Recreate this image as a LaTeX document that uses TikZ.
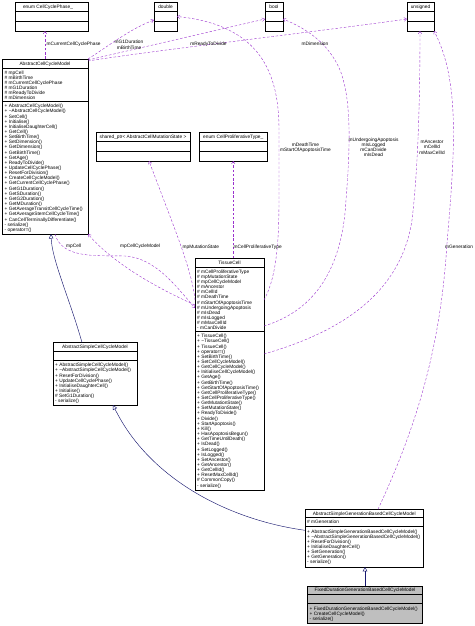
\documentclass[tikz,border=0pt]{standalone}
\usepackage{fontspec}
\setmainfont{Liberation Sans}
\usetikzlibrary{arrows.meta,calc}
\definecolor{collab}{HTML}{9A32CD}
\definecolor{inher}{HTML}{191970}
\definecolor{fillgray}{HTML}{BFBFBF}
\begin{document}
\begin{tikzpicture}[x=1pt,y=-1pt,
 cls/.style={draw=black, line width=0.4pt, anchor=north west, inner sep=0, outer sep=0},
 sep/.style={draw=black, line width=0.4pt},
 txt/.style={font=\fontsize{4.8}{5.15}\selectfont, inner sep=0, anchor=base west},
 ttl/.style={font=\fontsize{4.8}{5.15}\selectfont, inner sep=0, anchor=base},
 use/.style={draw=collab, line width=0.4pt, dash pattern=on 2.5pt off 1.8pt, -{Straight Barb[length=2.6pt,width=3.6pt]}},
 isa/.style={draw=inher, line width=0.45pt, -{Triangle[open,length=4.5pt,width=4.5pt]}},
]
\useasboundingbox (0,0) rectangle (474,626);

% ---------- empty boxes ----------
\node[cls, minimum width=73pt, minimum height=29pt] (ccp) at (15,2) {};
\draw[sep] (15,11) -- (88,11); \draw[sep] (15,21) -- (88,21);
\node[ttl] (ccpt) at (48,8.2) {enum CellCyclePhase\_};

\node[cls, minimum width=23pt, minimum height=29pt] (dbl) at (154,2) {};
\draw[sep] (154,11) -- (177,11); \draw[sep] (154,21) -- (177,21);
\node[ttl] (dblt) at (165.5,8.2) {double};

\node[cls, minimum width=18pt, minimum height=29pt] (bool) at (265,2) {};
\draw[sep] (265,11) -- (283,11); \draw[sep] (265,21) -- (283,21);
\node[ttl] (boolt) at (274,8.2) {bool};

\node[cls, minimum width=27pt, minimum height=29pt] (uns) at (407,2) {};
\draw[sep] (407,11) -- (434,11); \draw[sep] (407,21) -- (434,21);
\node[ttl] (unst) at (420.5,8.2) {unsigned};

\node[cls, minimum width=94pt, minimum height=28.5pt] (shp) at (96,132.5) {};
\draw[sep] (96,141.5) -- (190,141.5); \draw[sep] (96,151.5) -- (190,151.5);
\node[ttl] (shpt) at (143,138.7) {shared\_ptr< AbstractCellMutationState >};

\node[cls, minimum width=67.5pt, minimum height=28.5pt] (cpt) at (199.5,132.5) {};
\draw[sep] (199.5,141.5) -- (267,141.5); \draw[sep] (199.5,151.5) -- (267,151.5);
\node[ttl] (cptt) at (233.25,138.7) {enum CellProliferativeType\_};

% ---------- AbstractCellCycleModel ----------
\node[cls, minimum width=86pt, minimum height=175pt] (acm) at (2,59) {};
\draw[sep] (2,68) -- (88,68); \draw[sep] (2,101.5) -- (88,101.5);
\node[ttl] (acmt) at (45,65.4) {AbstractCellCycleModel};
\foreach \t [count=\i from 0] in {\# mpCell,\# mBirthTime,\# mCurrentCellCyclePhase,\# mG1Duration,\# mReadyToDivide,\# mDimension}
  {\node[txt] (acma\i) at (4.5,{74.2+5.15*\i}) {\t};}
\foreach \t [count=\i from 0] in {+ AbstractCellCycleModel(),+ \textasciitilde AbstractCellCycleModel(),+ SetCell(),+ Initialise(),+ InitialiseDaughterCell(),+ GetCell(),+ SetBirthTime(),+ SetDimension(),+ GetDimension(),+ GetBirthTime(),+ GetAge(),+ ReadyToDivide(),+ UpdateCellCyclePhase(),+ ResetForDivision(),+ CreateCellCycleModel(),+ GetCurrentCellCyclePhase(),+ GetG1Duration(),+ GetSDuration(),+ GetG2Duration(),+ GetMDuration(),+ GetAverageTransitCellCycleTime(),+ GetAverageStemCellCycleTime(),+ CanCellTerminallyDifferentiate(),- serialize(),- operator=()}
  {\node[txt] (acmm\i) at (4.5,{107.7+5.15*\i}) {\t};}

% ---------- TissueCell ----------
\node[cls, minimum width=69pt, minimum height=232pt] (tc) at (195,258) {};
\draw[sep] (195,267) -- (264,267); \draw[sep] (195,331.5) -- (264,331.5);
\node[ttl] (tct) at (229.5,264.2) {TissueCell};
\foreach \t [count=\i from 0] in {\# mCellProliferativeType,\# mpMutationState,\# mpCellCycleModel,\# mAncestor,\# mCellId,\# mDeathTime,\# mStartOfApoptosisTime,\# mUndergoingApoptosis,\# mIsDead,\# mIsLogged,\# mMaxCellId,- mCanDivide}
  {\node[txt] (tca\i) at (197,{273.2+5.15*\i}) {\t};}
\foreach \t [count=\i from 0] in {+ TissueCell(),+ \textasciitilde TissueCell(),+ TissueCell(),+ operator=(),+ SetBirthTime(),+ SetCellCycleModel(),+ GetCellCycleModel(),+ InitialiseCellCycleModel(),+ GetAge(),+ GetBirthTime(),+ GetStartOfApoptosisTime(),+ GetCellProliferativeType(),+ SetCellProliferativeType(),+ GetMutationState(),+ SetMutationState(),+ ReadyToDivide(),+ Divide(),+ StartApoptosis(),+ Kill(),+ HasApoptosisBegun(),+ GetTimeUntilDeath(),+ IsDead(),+ SetLogged(),+ IsLogged(),+ SetAncestor(),+ GetAncestor(),+ GetCellId(),+ ResetMaxCellId(),\# CommonCopy(),- serialize()}
  {\node[txt] (tcm\i) at (197,{337.7+5.15*\i}) {\t};}

% ---------- AbstractSimpleCellCycleModel ----------
\node[cls, minimum width=84pt, minimum height=62.5pt] (ascm) at (53,342.5) {};
\draw[sep] (53,350.7) -- (137,350.7); \draw[sep] (53,360.3) -- (137,360.3);
\node[ttl] (ascmt) at (95,348.2) {AbstractSimpleCellCycleModel};
\foreach \t [count=\i from 0] in {+ AbstractSimpleCellCycleModel(),+ \textasciitilde AbstractSimpleCellCycleModel(),+ ResetForDivision(),+ UpdateCellCyclePhase(),+ InitialiseDaughterCell(),+ Initialise(),\# SetG1Duration(),- serialize()}
  {\node[txt] (ascmm\i) at (55,{366.7+5.15*\i}) {\t};}

% ---------- AbstractSimpleGenerationBasedCellCycleModel ----------
\node[cls, minimum width=118.5pt, minimum height=57.5pt] (asg) at (305,509.3) {};
\draw[sep] (305,517.3) -- (423.5,517.3); \draw[sep] (305,526.5) -- (423.5,526.5);
\node[ttl] (asgt) at (364.25,515) {AbstractSimpleGenerationBasedCellCycleModel};
\node[txt] (asga0) at (307,523.7) {\# mGeneration};
\foreach \t [count=\i from 0] in {+ AbstractSimpleGenerationBasedCellCycleModel(),+ \textasciitilde AbstractSimpleGenerationBasedCellCycleModel(),+ ResetForDivision(),+ InitialiseDaughterCell(),+ SetGeneration(),+ GetGeneration(),- serialize()}
  {\node[txt] (asgm\i) at (307,{533+5.15*\i}) {\t};}

% ---------- FixedDurationGenerationBasedCellCycleModel ----------
\node[cls, fill=fillgray, minimum width=115pt, minimum height=37pt] (fx) at (307.5,586) {};
\draw[sep] (307.5,594.3) -- (422.5,594.3); \draw[sep] (307.5,603.3) -- (422.5,603.3);
\node[ttl] (fxt) at (365,591.9) {FixedDurationGenerationBasedCellCycleModel};
\foreach \t [count=\i from 0] in {+ FixedDurationGenerationBasedCellCycleModel(),+ CreateCellCycleModel(),- serialize()}
  {\node[txt] (fxm\i) at (309.5,{610+5.15*\i}) {\t};}

% ---------- collaboration edges ----------
\draw[use] (acm.north) -- (acm.north |- ccp.south);
\draw[use] (acm.north east) .. controls (110,45) and (130,29) .. ($(dbl.west)+(0,3.5)$);
\draw[use] ([yshift=-1pt]acm.north east) -- ($(bool.west)+(0,2.5)$);
\draw[use] ([yshift=-2pt]acm.north east) .. controls (150,51) and (330,30) .. ($(uns.west)+(0,2.5)$);

\draw[use] ($(tc.north east)+(0,42)$) .. controls (275,280) and (279,250) .. (279,200) -- (279,130) .. controls (279,75) and (262,25) .. (dbl.east);
\draw[use] ($(tc.north east)+(0,68)$) .. controls (310,312) and (342,275) .. (346,200) .. controls (350,150) and (352,100) .. (340,70) .. controls (328,42) and (305,28) .. ($(bool.east)+(0,2.5)$);
\draw[use] ($(tc.north east)+(0,96)$) .. controls (330,335) and (400,300) .. (412,220) .. controls (418,170) and (420,100) .. ($(uns.south west)+(13,0)$);
\draw[use] ($(asg.north west)+(73,0)$) .. controls (410,440) and (440,360) .. (447,243) .. controls (455,150) and (460,80) .. (uns.south east);

\draw[use] ($(tc.north west)+(0,42)$) .. controls (192,270) and (175,230) .. ($(shp.south)+(6,0)$);
\draw[use] (tc.north -| cpt.south) -- (cpt.south);
\draw[use] ($(acm.south west)+(53,0)$) .. controls (62,260) and (100,255) .. (125,256) .. controls (155,258) and (175,285) .. ($(tc.north west)+(0,50)$);
\draw[use] ($(tc.north west)+(0,47)$) .. controls (150,285) and (110,260) .. (acm.south east);

% ---------- inheritance edges ----------
\draw[isa] ($(ascm.north west)+(29,0)$) .. controls (70,300) and (52,260) .. ($(acm.south west)+(49,0)$);
\draw[isa] ($(asg.north west)+(0,21)$) .. controls (230,520) and (150,480) .. ($(ascm.south west)+(60,0)$);
\draw[isa] (fx.north) -- (fx.north |- asg.south);

% ---------- edge labels ----------
\node[txt] (l1) at (46.5,45.2) {mCurrentCellCyclePhase};
\node[ttl] (l2a) at (129,43.9) {mG1Duration};
\node[ttl] (l2b) at (129,49.05) {mBirthTime};
\node[ttl] (l3) at (208.5,45.2) {mReadyToDivide};
\node[ttl] (l4) at (315,45.2) {mDimension};
\node[ttl] (l5a) at (305.5,146) {mDeathTime};
\node[ttl] (l5b) at (305.5,151.15) {mStartOfApoptosisTime};
\node[ttl] (l6a) at (373.5,141) {mUndergoingApoptosis};
\node[ttl] (l6b) at (373.5,146.15) {mIsLogged};
\node[ttl] (l6c) at (373.5,151.3) {mCanDivide};
\node[ttl] (l6d) at (373.5,156.45) {mIsDead};
\node[ttl] (l7a) at (432,143.7) {mAncestor};
\node[ttl] (l7b) at (432,148.85) {mCellId};
\node[ttl] (l7c) at (432,154) {mMaxCellId};
\node[txt] (l8) at (445,248.4) {mGeneration};
\node[txt] (l9) at (233.5,248.4) {mCellProliferativeType};
\node[txt] (l10) at (182.5,248.4) {mpMutationState};
\node[txt] (l11) at (120,247.7) {mpCellCycleModel};
\node[txt] (l12) at (66,247.7) {mpCell};
\end{tikzpicture}
\end{document}
